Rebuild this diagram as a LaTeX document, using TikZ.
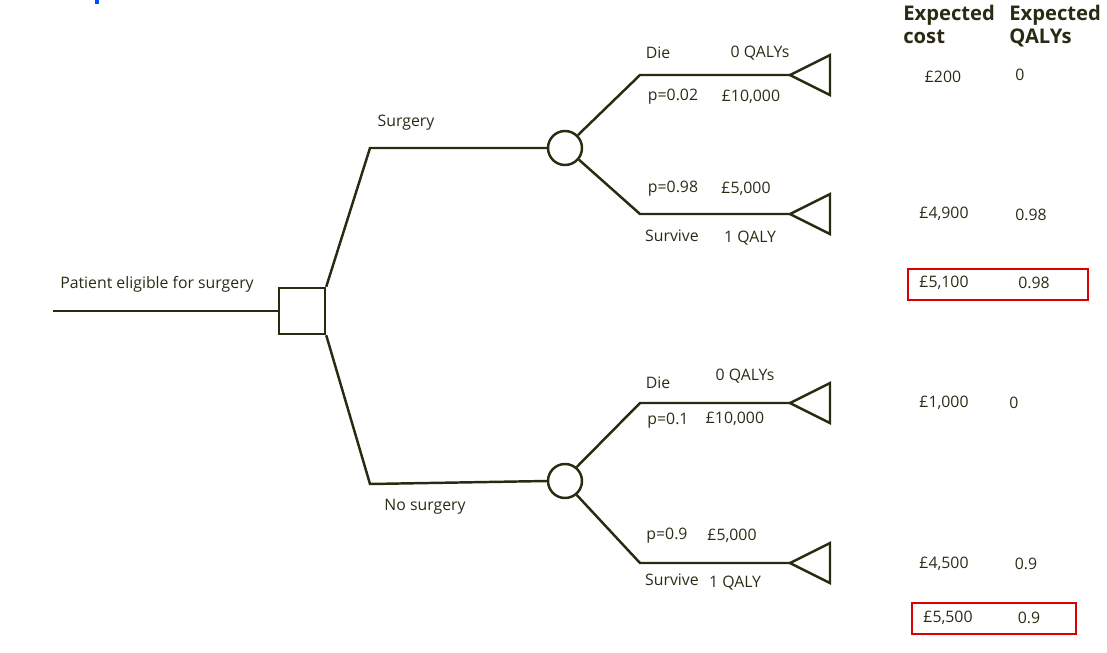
\documentclass[tikz,border=0pt]{standalone}
\usepackage{fontspec}
\setmainfont{Open Sans}
\usetikzlibrary{calc}
\begin{document}
\begin{tikzpicture}[x=0.02cm,y=-0.02cm,
  ink/.style={draw=ln,line width=1.4pt},
  lbl/.style={text=tx,font=\fontsize{9pt}{10pt}\selectfont,inner sep=0pt},
  hdr/.style={text=tx,font=\fontsize{11.5pt}{13pt}\selectfont\bfseries,inner sep=0pt,align=left,anchor=north west},
  dec/.style={ink,fill=white,minimum size=0.92cm,inner sep=0pt,rectangle},
  chance/.style={ink,fill=white,circle,minimum size=0.68cm,inner sep=0pt},
  box/.style={draw=red!85!black,line width=0.8pt}]
\definecolor{ln}{HTML}{2A2A10}
\definecolor{tx}{HTML}{2B2B15}
\useasboundingbox (0,0) rectangle (1107,653);
\fill[blue!70!cyan] (95,0) rectangle (99,4);
% nodes
\coordinate (start) at (53,311);
\node[dec] (d) at (302,311) {};
\node[chance] (c1) at (565,148) {};
\node[chance] (c2) at (565,481) {};
\coordinate (b1) at (370,148);
\coordinate (b2) at (370,484);
\coordinate (k1) at (640,75);  \coordinate (t1) at (790,75);
\coordinate (k2) at (640,214); \coordinate (t2) at (790,214);
\coordinate (k3) at (640,403); \coordinate (t3) at (790,403);
\coordinate (k4) at (640,563); \coordinate (t4) at (790,563);
% connectors
\draw[ink] (start) -- (d.west);
\draw[ink] (d.north east) -- (b1) -- (c1.west);
\draw[ink] (d.south east) -- (b2) -- (c2.west);
\draw[ink] (c1.45) -- (k1) -- (t1);
\draw[ink] (c1.-40) -- (k2) -- (t2);
\draw[ink] (c2.50) -- (k3) -- (t3);
\draw[ink] (c2.-50) -- (k4) -- (t4);
% terminals
\foreach \t in {t1,t2,t3,t4}{
  \draw[ink,line join=miter] (\t) -- ($(\t)+(40,-20)$) -- ($(\t)+(40,20)$) -- cycle;}
% labels
\node[lbl] at (157,284) {Patient eligible for surgery};
\node[lbl] at (406,123) {Surgery};
\node[lbl] at (425,507) {No surgery};
\node[lbl] at (658,53) {Die};
\node[lbl] at (760,53) {0 QALYs};
\node[lbl] at (673,97) {p=0.02};
\node[lbl] at (751,97) {£10,000};
\node[lbl] at (673,189) {p=0.98};
\node[lbl] at (746,189) {£5,000};
\node[lbl] at (672,236) {Survive};
\node[lbl] at (750,238) {1 QALY};
\node[lbl] at (658,383) {Die};
\node[lbl] at (745,376) {0 QALYs};
\node[lbl] at (668,421) {p=0.1};
\node[lbl] at (735,419) {£10,000};
\node[lbl] at (667,536) {p=0.9};
\node[lbl] at (732,536) {£5,000};
\node[lbl] at (672,580) {Survive};
\node[lbl] at (735,583) {1 QALY};
% table
\node[hdr] at (903,5) {Expected\\cost};
\node[hdr] at (1009,5) {Expected\\QALYs};
\node[lbl] at (943,77) {£200};   \node[lbl] at (1020,75) {0};
\node[lbl] at (944,214) {£4,900}; \node[lbl] at (1031,215) {0.98};
\draw[box] (908,269) rectangle (1088,300);
\node[lbl] at (944,283) {£5,100}; \node[lbl] at (1034,283) {0.98};
\node[lbl] at (944,403) {£1,000}; \node[lbl] at (1014,403) {0};
\node[lbl] at (944,564) {£4,500}; \node[lbl] at (1026,564) {0.9};
\draw[box] (912,603) rectangle (1076,634);
\node[lbl] at (948,618) {£5,500}; \node[lbl] at (1029,618) {0.9};
\end{tikzpicture}
\end{document}
